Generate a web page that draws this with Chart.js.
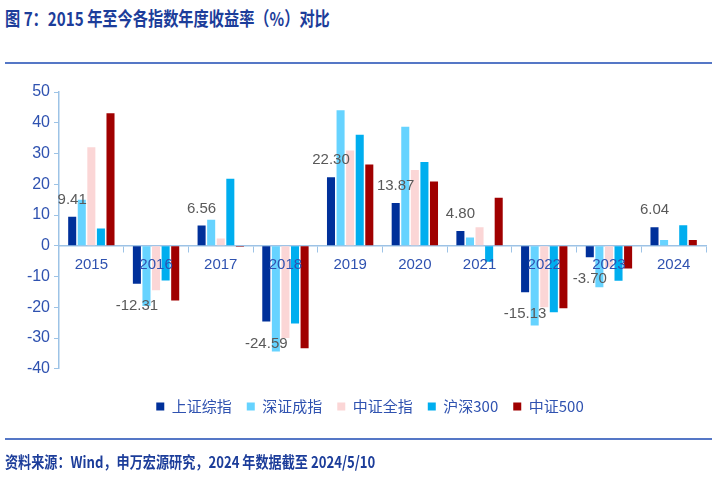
<!DOCTYPE html>
<html>
<head>
<meta charset="utf-8">
<script src="https://cdn.jsdelivr.net/npm/chart.js@4.4.1/dist/chart.umd.min.js"></script>
<style>
html,body{margin:0;padding:0;background:#fff;}
#wrap{position:relative;width:716px;height:478px;overflow:hidden;}
#titulo{position:absolute;left:5px;top:4px;font:bold 19px "Noto Sans CJK SC";color:#1c3d9a;white-space:nowrap;transform:scaleX(0.8);transform-origin:left top;}
.linea{position:absolute;left:5px;width:707px;height:2px;background:#5577c6;}
#fuente{position:absolute;left:5px;top:449px;font:bold 16px "Noto Sans CJK SC";color:#1c3d9a;white-space:nowrap;transform:scaleX(0.82);transform-origin:left top;}
canvas{position:absolute;left:0;top:0;}
</style>
</head>
<body>
<div id="wrap">
  <div id="titulo">图 7：2015 年至今各指数年度收益率（%）对比</div>
  <div class="linea" style="top:62px;"></div>
  <canvas id="grafico" width="716" height="478"></canvas>
  <div class="linea" style="top:438px;"></div>
  <div id="fuente">资料来源：Wind，申万宏源研究，2024 年数据截至 2024/5/10</div>
</div>
<script>
// datos
const anios      = ['2015','2016','2017','2018','2019','2020','2021','2022','2023','2024'];
const shangZheng = [9.41, -12.31, 6.56, -24.59, 22.30, 13.87, 4.80, -15.13, -3.70, 6.04];
const shenZheng  = [15.0, -19.6, 8.5, -34.4, 44.1, 38.7, 2.7, -25.9, -13.5, 1.9];
const zzQuanZhi  = [32.0, -14.5, 2.4, -30.0, 31.0, 24.6, 6.0, -20.0, -7.0, 0.0];
const huShen300  = [5.6, -11.3, 21.8, -25.3, 36.1, 27.2, -5.2, -21.6, -11.4, 6.7];
const zhongZheng500 = [43.1, -17.8, -0.3, -33.3, 26.4, 20.9, 15.6, -20.3, -7.4, 1.9];
const ticksY = [-40, -30, -20, -10, 0, 10, 20, 30, 40, 50];

const colorEje = '#9dc3e6';
const colorTexto = '#2f52b0';

//=========================etiquetas de valor (solo 上证综指)============================
const etiquetasValor = {
  id:'etiquetasValor',
  afterLayout(chart){
    // leyenda un poco a la derecha, centrada bajo el area del grafico
    chart.legend.left += 17;
    chart.legend.right += 17;
  },
  afterDatasetsDraw(chart){
    const ctx = chart.ctx;
    const meta = chart.getDatasetMeta(0);
    ctx.save();
    ctx.font = '15px "Liberation Sans"';
    ctx.fillStyle = '#595959';
    ctx.textAlign = 'center';
    ctx.textBaseline = 'middle';
    meta.data.forEach(function(bar, i){
      let v = shangZheng[i];
      let y = (v>=0) ? (bar.y-17) : (bar.y+22);
      ctx.fillText(v.toFixed(2), bar.x, y);
    });
    ctx.restore();
  }
};

let chartData = {
  labels  : anios,
  datasets: [
    { label:'上证综指', data:shangZheng,    backgroundColor:'#00309a' },
    { label:'深证成指', data:shenZheng,     backgroundColor:'#66d3ff' },
    { label:'中证全指', data:zzQuanZhi,     backgroundColor:'#fbd6d6' },
    { label:'沪深300',  data:huShen300,     backgroundColor:'#00aeef' },
    { label:'中证500',  data:zhongZheng500, backgroundColor:'#a00000' }
  ]
};

let chartOptions = {
  responsive : false,
  animation  : false,
  devicePixelRatio: 1,
  layout     : { padding:{ left:0, right:10, top:92, bottom:54 } },
  datasets   : { bar:{ categoryPercentage:0.74, barPercentage:0.84 } },
  scales: {
    x: {
      position: { y:0 },
      grid  : { drawOnChartArea:false, offset:true, tickLength:6, color:colorEje },
      border: { color:colorEje, width:1.5 },
      ticks : { z:1, padding:4, color:colorTexto, font:{ family:'Liberation Sans', size:15 } }
    },
    y: {
      min: ticksY[0],
      max: ticksY[ticksY.length-1],
      afterBuildTicks: function(scale){ scale.ticks = ticksY.map(function(v){ return {value:v}; }); },
      afterFit: function(scale){ scale.width = 59; },
      grid  : { drawOnChartArea:false, tickLength:5, color:colorEje },
      border: { color:colorEje, width:1.5 },
      ticks : { padding:4, color:colorTexto, font:{ family:'Liberation Sans', size:16 } }
    }
  },
  plugins: {
    tooltip: { enabled:false },
    legend: {
      position:'bottom',
      title : { display:true, text:' ', font:{ size:1 }, padding:{ top:14, bottom:0 } },
      labels: { boxWidth:8, boxHeight:8, padding:15, color:colorTexto, font:{ family:'Noto Sans CJK SC', size:15 } }
    }
  }
};

new Chart(document.getElementById('grafico').getContext('2d'), {
  type   : 'bar',
  data   : chartData,
  options: chartOptions,
  plugins: [etiquetasValor]
});
</script>
</body>
</html>
